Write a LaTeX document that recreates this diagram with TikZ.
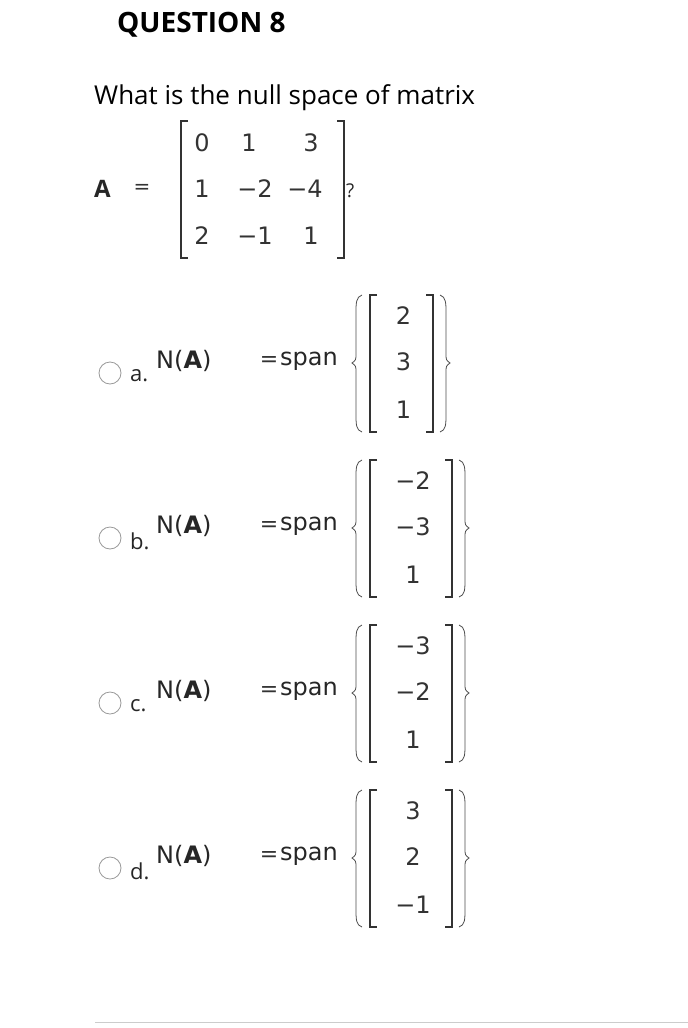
\documentclass[tikz,border=0pt]{standalone}
\usepackage{fontspec}
\setmainfont{Open Sans}
\newfontfamily\numfont{DejaVu Sans}
\begin{document}
\begin{tikzpicture}[x=1pt,y=-1pt,
  txt/.style={inner sep=0pt,anchor=west,text=black!85},
  num/.style={inner sep=0pt,font=\numfont\fontsize{24}{24}\selectfont,text=black!80},
  brk/.style={draw=black!80,line width=1.1pt},
  brc/.style={draw=black!70,line width=0.8pt},
  radio/.style={circle,draw=black!40,fill=white,minimum size=22pt,inner sep=0pt,line width=0.8pt}]
\useasboundingbox (0,0) rectangle (688,1028);
\node[txt,font=\bfseries\fontsize{28}{28}\selectfont,text=black] (title) at (117,25) {QUESTION 8};
\node[txt,font=\fontsize{26}{26}\selectfont,text=black] (q) at (94,98) {What is the null space of matrix};
% matrix A
\node[txt,font=\bfseries\fontsize{24}{24}\selectfont] (A) at (94,189) {A};
\node[num,font=\numfont\fontsize{20}{20}\selectfont] (eq) at (142,189) {=};
\draw[brk] (188,121) -- (181,121) -- (181,258) -- (188,258);
\draw[brk] (337,121) -- (344,121) -- (344,258) -- (337,258);
\node[num] (m11) at (202,143) {0};
\node[num] (m12) at (249,143) {1};
\node[num] (m13) at (311,143) {3};
\node[num] (m21) at (202,189) {1};
\node[num] (m22) at (255,189) {−2};
\node[num] (m23) at (305,189) {−4};
\node[num] (m31) at (202,236) {2};
\node[num] (m32) at (255,236) {−1};
\node[num] (m33) at (311,236) {1};
\node[txt,font=\fontsize{19}{19}\selectfont] (qm) at (346,191) {?};
% options
\foreach \lab/\yy/\a/\b/\c/\rx [count=\i] in {a/373/2/3/1/433, b/538/−2/−3/1/452, c/703/−3/−2/1/452, d/868/3/2/−1/452}{
  \node[radio] (r\i) at (110,\yy) {};
  \node[txt,font=\fontsize{22}{22}\selectfont] (l\i) at (130,\yy+3) {\lab.};
  \node[txt,font=\numfont\fontsize{24}{24}\selectfont] (n\i) at (156,\yy-12) {N(\textbf{A})};
  \node[num,font=\numfont\fontsize{22}{22}\selectfont] (e\i) at (269,\yy-12) {=};
  \node[txt,font=\numfont\fontsize{24}{24}\selectfont] (s\i) at (280,\yy-12) {span};
  \pgfmathsetmacro{\cx}{(370+\rx)/2+2}
  \node[num] (v\i a) at (\cx,\yy-57) {\a};
  \node[num] (v\i b) at (\cx,\yy-11) {\b};
  \node[num] (v\i c) at (\cx,\yy+37) {\c};
  \draw[brk] (377,\yy-78) -- (370,\yy-78) -- (370,\yy+59) -- (377,\yy+59);
  \draw[brk] (\rx-7,\yy-78) -- (\rx,\yy-78) -- (\rx,\yy+59) -- (\rx-7,\yy+59);
  \draw[brc] (362,\yy-78) .. controls (356,\yy-76) and (356,\yy-70) .. (356,\yy-60) -- (356,\yy-20) .. controls (356,\yy-13) .. (352,\yy-10) .. controls (356,\yy-7) .. (356,\yy) -- (356,\yy+40) .. controls (356,\yy+52) and (356,\yy+57) .. (362,\yy+59);
  \draw[brc] (\rx+7,\yy-78) .. controls (\rx+13,\yy-76) and (\rx+13,\yy-70) .. (\rx+13,\yy-60) -- (\rx+13,\yy-20) .. controls (\rx+13,\yy-13) .. (\rx+17,\yy-10) .. controls (\rx+13,\yy-7) .. (\rx+13,\yy) -- (\rx+13,\yy+40) .. controls (\rx+13,\yy+52) and (\rx+13,\yy+57) .. (\rx+7,\yy+59);
}
\coordinate (hl) at (95,1022);
\coordinate (hr) at (688,1022);
\draw[black!20,line width=1pt] (hl) -- (hr);
\end{tikzpicture}
\end{document}
